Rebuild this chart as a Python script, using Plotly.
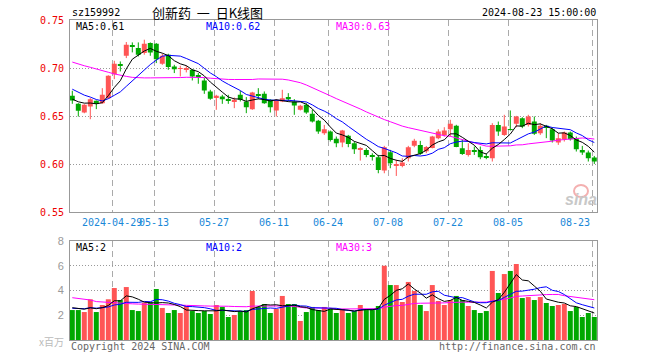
import plotly.graph_objects as go
import pandas as pd

dates = ["2024-04-18","2024-04-19","2024-04-22","2024-04-23","2024-04-24","2024-04-25","2024-04-26","2024-04-29","2024-04-30",
"2024-05-06","2024-05-07","2024-05-08","2024-05-09","2024-05-10","2024-05-13","2024-05-14","2024-05-15","2024-05-16","2024-05-17",
"2024-05-20","2024-05-21","2024-05-22","2024-05-23","2024-05-24","2024-05-27","2024-05-28","2024-05-29","2024-05-30","2024-05-31",
"2024-06-03","2024-06-04","2024-06-05","2024-06-06","2024-06-07","2024-06-11","2024-06-12","2024-06-13","2024-06-14",
"2024-06-17","2024-06-18","2024-06-19","2024-06-20","2024-06-21","2024-06-24","2024-06-25","2024-06-26","2024-06-27","2024-06-28",
"2024-07-01","2024-07-02","2024-07-03","2024-07-04","2024-07-05","2024-07-08","2024-07-09","2024-07-10","2024-07-11","2024-07-12",
"2024-07-15","2024-07-16","2024-07-17","2024-07-18","2024-07-19","2024-07-22","2024-07-23","2024-07-24","2024-07-25","2024-07-26",
"2024-07-29","2024-07-30","2024-07-31","2024-08-01","2024-08-02","2024-08-05","2024-08-06","2024-08-07","2024-08-08","2024-08-09",
"2024-08-12","2024-08-13","2024-08-14","2024-08-15","2024-08-16","2024-08-19","2024-08-20","2024-08-21","2024-08-22","2024-08-23"]

opens = [0.6712,0.6628,0.6538,0.6600,0.6659,0.6635,0.6687,0.6937,0.7034,0.7128,
0.7232,0.7208,0.7156,0.7260,0.7253,0.7045,0.7139,0.7017,0.6993,0.6990,
0.6982,0.6920,0.6871,0.6757,0.6694,0.6705,0.6670,0.6656,0.6722,0.6653,
0.6573,0.6729,0.6732,0.6670,0.6559,0.6653,0.6698,0.6653,0.6566,0.6618,
0.6524,0.6451,0.6323,0.6340,0.6264,0.6225,0.6295,0.6218,0.6149,0.6149,
0.6087,0.6073,0.5934,0.6125,0.5989,0.5982,0.6062,0.6191,0.6201,0.6135,
0.6170,0.6271,0.6305,0.6364,0.6400,0.6167,0.6097,0.6142,0.6149,0.6080,
0.6062,0.6409,0.6305,0.6364,0.6420,0.6479,0.6409,0.6444,0.6323,0.6399,
0.6364,0.6226,0.6260,0.6330,0.6271,0.6149,0.6121,0.6069]

highs = [0.6764,0.6635,0.6625,0.6687,0.6663,0.6791,0.6925,0.7076,0.7069,0.7271,
0.7267,0.7267,0.7295,0.7267,0.7260,0.7149,0.7149,0.7034,0.7024,0.7024,
0.6989,0.6948,0.6896,0.6774,0.6722,0.6722,0.6722,0.6694,0.6764,0.6698,
0.6753,0.6791,0.6757,0.6677,0.6677,0.6774,0.6739,0.6677,0.6618,0.6635,
0.6566,0.6461,0.6409,0.6350,0.6288,0.6357,0.6305,0.6236,0.6177,0.6166,
0.6114,0.6097,0.6191,0.6149,0.6045,0.6062,0.6191,0.6264,0.6243,0.6190,
0.6295,0.6364,0.6385,0.6462,0.6410,0.6253,0.6218,0.6184,0.6184,0.6114,
0.6427,0.6444,0.6514,0.6559,0.6503,0.6489,0.6514,0.6496,0.6427,0.6409,
0.6385,0.6323,0.6340,0.6340,0.6288,0.6191,0.6142,0.6086]

lows = [0.6628,0.6496,0.6530,0.6468,0.6573,0.6628,0.6680,0.6885,0.6965,0.7104,
0.7163,0.7121,0.7139,0.7128,0.7052,0.7034,0.6982,0.6948,0.6913,0.6955,
0.6871,0.6837,0.6732,0.6670,0.6566,0.6628,0.6628,0.6583,0.6653,0.6531,
0.6566,0.6677,0.6628,0.6538,0.6496,0.6646,0.6653,0.6514,0.6559,0.6524,
0.6434,0.6316,0.6305,0.6236,0.6177,0.6177,0.6177,0.6107,0.6038,0.6073,
0.6038,0.5906,0.5906,0.5958,0.5878,0.5968,0.6028,0.6177,0.6097,0.6115,
0.6165,0.6260,0.6288,0.6288,0.6177,0.6097,0.6080,0.6097,0.6052,0.6052,
0.6028,0.6295,0.6295,0.6350,0.6385,0.6375,0.6392,0.6305,0.6305,0.6271,
0.6226,0.6201,0.6236,0.6246,0.6132,0.6097,0.6028,0.6003]

closes = [0.6663,0.6555,0.6618,0.6677,0.6628,0.6722,0.6920,0.7045,0.7028,0.7243,
0.7225,0.7139,0.7253,0.7163,0.7093,0.7128,0.7010,0.6989,0.7000,0.7000,
0.6913,0.6913,0.6767,0.6680,0.6712,0.6677,0.6660,0.6670,0.6670,0.6593,
0.6746,0.6718,0.6635,0.6593,0.6663,0.6687,0.6677,0.6611,0.6608,0.6538,
0.6444,0.6340,0.6364,0.6253,0.6218,0.6350,0.6211,0.6156,0.6166,0.6097,
0.6076,0.5941,0.6177,0.6010,0.6003,0.6017,0.6177,0.6245,0.6110,0.6180,
0.6288,0.6340,0.6350,0.6422,0.6180,0.6107,0.6149,0.6132,0.6073,0.6069,
0.6409,0.6340,0.6392,0.6357,0.6496,0.6392,0.6496,0.6316,0.6399,0.6385,
0.6246,0.6271,0.6330,0.6260,0.6156,0.6121,0.6062,0.6028]

# volume, millions
volumes = [2.42,2.42,2.26,3.29,2.26,2.83,3.29,4.20,3.23,4.28,
2.42,2.34,3.02,3.04,4.12,2.59,2.18,2.42,2.18,2.75,
2.34,2.18,2.34,2.10,2.83,2.67,1.86,2.02,2.34,2.42,
3.96,2.67,2.91,2.18,2.51,3.56,2.91,2.91,1.54,2.26,
2.67,2.42,2.67,2.50,2.18,2.51,2.18,2.34,2.83,2.42,
2.42,2.75,6.00,4.44,4.44,3.07,4.69,3.96,2.83,2.34,
4.44,3.15,2.83,3.23,3.56,3.23,2.75,2.42,2.18,2.34,
5.58,3.80,5.33,5.58,6.14,3.39,3.47,3.23,3.47,2.99,
2.75,2.83,2.91,2.34,2.67,1.86,2.18,1.86]

# sessions before the visible window (estimated from where the MA lines start)
prior_closes = [0.720,0.712,0.716,0.722,0.722,0.738,0.756,0.750,0.754,0.753,
0.732,0.724,0.716,0.712,0.706,0.702,0.698,0.694,0.691,0.689,
0.690,0.689,0.688,0.688,0.687,0.669,0.669,0.667,0.667]
prior_volumes = [4.2,5.0,4.4,6.1,3.9,4.3,5.8,4.0,4.2,
3.5,2.9,3.3,3.0,3.6,2.8,3.4,3.1,2.9,3.3,3.27,
2.6,2.4,2.5,2.6,2.45,2.7,2.6,2.7,2.64]

tick_dates = ["2024-04-29","2024-05-13","2024-05-27","2024-06-11","2024-06-24",
              "2024-07-08","2024-07-22","2024-08-05","2024-08-23"]
tick_text = ["2024-04-29","05-13","05-27","06-11","06-24","07-08","07-22","08-05","08-23"]
price_ticks = [0.55, 0.60, 0.65, 0.70, 0.75]
price_tick_text = ["0.55", "0.60", "0.65", "0.70", "0.75"]
vol_ticks = [2, 4, 6, 8]
vol_tick_text = ["2", "4", "6", "8"]

title_text = "创新药  一  日K线图"
code_text = "sz159992"
time_text = "2024-08-23 15:00:00"
ma_main_text = ["MA5:0.61", "MA10:0.62", "MA30:0.63"]
ma_vol_text = ["MA5:2", "MA10:2", "MA30:3"]

# ---------------------------------------------------------------
n = len(dates)
xs = list(range(n))
RED = "#ff5555"
GREEN = "#00a800"
BLUE = "#0000ff"
MAG = "#ff00ff"
MONO = "DejaVu Sans Mono"

L, R, T, B = 70, 597, 20, 340


def pxx(x):
    return (x - L) / (R - L)


def pxy(y):
    return (B - y) / (B - T)


up = [c >= o for o, c in zip(opens, closes)]
colors = [RED if u else GREEN for u in up]

ca = pd.Series(prior_closes + closes)
va = pd.Series(prior_volumes + volumes)
ma = {w: ca.rolling(w).mean().tolist()[-n:] for w in (5, 10, 30)}
vma = {w: va.rolling(w).mean().tolist()[-n:] for w in (5, 10, 30)}

fig = go.Figure()

# wicks
for flag, col in ((True, RED), (False, GREEN)):
    wx, wy = [], []
    for i in xs:
        if up[i] == flag:
            wx += [i, i, None]
            wy += [lows[i], highs[i], None]
    fig.add_trace(go.Scatter(x=wx, y=wy, mode="lines", line=dict(color=col, width=1),
                             xaxis="x", yaxis="y", hoverinfo="skip"))

# bodies
base = [min(o, c) for o, c in zip(opens, closes)]
height = [max(abs(c - o), 0.0007) for o, c in zip(opens, closes)]
fig.add_trace(go.Bar(x=xs, y=height, base=base, width=0.83,
                     marker=dict(color=colors, line=dict(width=0)),
                     xaxis="x", yaxis="y"))

for w, col in ((30, MAG), (10, BLUE), (5, "#000000")):
    fig.add_trace(go.Scatter(x=xs, y=ma[w], mode="lines", line=dict(color=col, width=1),
                             xaxis="x", yaxis="y"))

# volume
fig.add_trace(go.Bar(x=xs, y=volumes, width=0.83,
                     marker=dict(color=colors, line=dict(width=0)),
                     xaxis="x2", yaxis="y2"))
for w, col in ((30, MAG), (10, BLUE), (5, "#000000")):
    fig.add_trace(go.Scatter(x=xs, y=vma[w], mode="lines", line=dict(color=col, width=1),
                             xaxis="x2", yaxis="y2"))

xmin = -2.3 / 6
xmax = xmin + (R - L) / 6
grid_x = [dates.index(d) - 0.333 for d in tick_dates]

xcommon = dict(range=[xmin, xmax], tickvals=grid_x, showticklabels=False,
               showgrid=True, gridcolor="#aaaaaa", griddash="6px,4px", gridwidth=1,
               showline=True, mirror=True, linecolor="#999999", linewidth=1,
               zeroline=False, ticks="", fixedrange=True)

fig.update_layout(
    width=660, height=360,
    margin=dict(l=L, r=660 - R, t=T, b=360 - B),
    paper_bgcolor="white", plot_bgcolor="white",
    showlegend=False, barmode="overlay",
    xaxis=dict(domain=[0, 1], anchor="y", **xcommon),
    xaxis2=dict(domain=[0, 1], anchor="y2", matches="x", **xcommon),
    yaxis=dict(domain=[pxy(212.3), 1.0], range=[0.55, 0.75],
               tickvals=price_ticks, ticktext=price_tick_text,
               tickfont=dict(family=MONO, size=10, color="#ee0000"),
               showgrid=True, gridcolor="#999999", griddash="1px,2px",
               showline=True, mirror=True, linecolor="#999999", linewidth=1,
               zeroline=False, ticks="", ticklabelstandoff=3),
    yaxis2=dict(domain=[0, pxy(241)], range=[0, 8],
                tickvals=vol_ticks, ticktext=vol_tick_text,
                tickfont=dict(family="Liberation Sans", size=11, color="#999999"),
                showgrid=True, gridcolor="#999999", griddash="1px,2px",
                showline=True, mirror=True, linecolor="#999999", linewidth=1,
                zeroline=False, ticks="", ticklabelstandoff=3),
)

ann = []


def text(s, x, y, xanchor="left", color="#000000", size=10, family=MONO, **kw):
    ann.append(dict(text=s, x=pxx(x), y=pxy(y), xref="paper", yref="paper",
                    xanchor=xanchor, yanchor="middle", showarrow=False,
                    font=dict(family=family, size=size, color=color, **kw)))


text(code_text, 70, 13)
text(title_text, 207, 12, xanchor="center", size=13, family="Noto Sans CJK SC")
text(time_text, 598, 13, xanchor="right")
for s, x, c in zip(ma_main_text, (74, 204, 334), ("#000000", BLUE, MAG)):
    text(s, x, 26, color=c)
for s, x, c in zip(ma_vol_text, (74, 204, 334), ("#000000", BLUE, MAG)):
    text(s, x, 247, color=c)
text("x百万", 66, 341, xanchor="right", color="#bbbbbb", size=10, family="Noto Sans CJK SC")
text("Copyright 2024 SINA.COM", 69, 346, color="#666666")
text("http://finance.sina.com.cn", 598, 346, xanchor="right", color="#666666")
text("sina", 599, 199, xanchor="right", color="#c8c8c8", size=16,
     family="Liberation Sans", weight="bold", style="italic")

# date labels under the price panel
for d, t in zip(tick_dates, tick_text):
    k = dates.index(d) - 0.333
    last = d == tick_dates[-1]
    ann.append(dict(text=t, x=k, y=pxy(222), xref="x", yref="paper",
                    xanchor="right" if last else "center", yanchor="middle",
                    showarrow=False, font=dict(family=MONO, size=10, color="#1a88d8")))

fig.update_layout(annotations=ann)
fig.add_shape(type="circle", xref="paper", yref="paper",
              x0=pxx(574), x1=pxx(588), y0=pxy(197), y1=pxy(185),
              line=dict(color="#f4b0b0", width=2))

fig.write_html("out.html")
